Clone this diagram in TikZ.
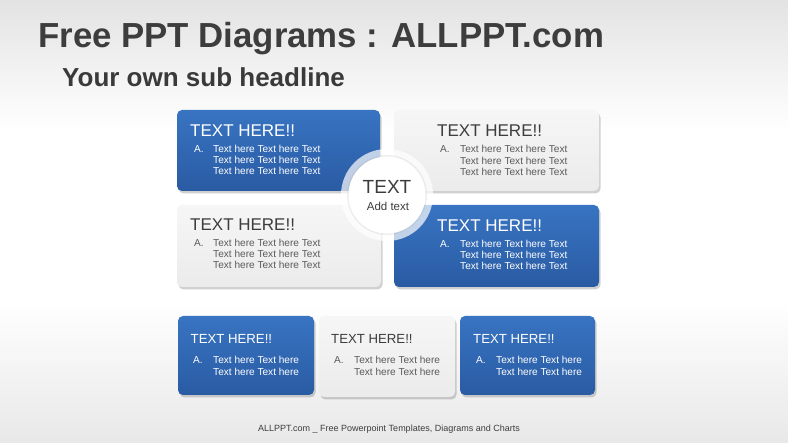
\documentclass[tikz,border=0pt]{standalone}
\usepackage{fontspec}
\setmainfont{Liberation Sans}
\usetikzlibrary{shadows}
\definecolor{blueup}{HTML}{3874C2}
\definecolor{bluedown}{HTML}{2A5BA3}
\definecolor{greyup}{HTML}{F6F6F6}
\definecolor{greydown}{HTML}{EBEBEB}
\definecolor{ink}{HTML}{3D3D3D}
\tikzset{sh/.style={drop shadow={shadow xshift=1.5pt, shadow yshift=-2.5pt, opacity=0.3, fill=black!60}}}
\tikzset{bb/.style={sh, rounded corners=5pt, top color=blueup, bottom color=bluedown, inner sep=0}}
\tikzset{wb/.style={sh, rounded corners=5pt, top color=greyup, bottom color=greydown, inner sep=0}}
\tikzset{h/.style={anchor=base west, inner sep=0, font=\fontsize{17}{17}\selectfont}}
\tikzset{hs/.style={anchor=base west, inner sep=0, font=\fontsize{13.2}{13.2}\selectfont}}
\tikzset{t/.style={anchor=base west, inner sep=0, align=left, font=\fontsize{10.1}{11.2}\selectfont}}
\tikzset{ts/.style={anchor=base west, inner sep=0, align=left, font=\fontsize{10.1}{12}\selectfont}}

\begin{document}
\begin{tikzpicture}[x=1pt, y=-1pt]
        % background
        \useasboundingbox (0,0) rectangle (788,443);
        \shade[top color=black!11, bottom color=white] (0,0) rectangle (788,130);
        \fill[white] (0,130) rectangle (788,300);
        \shade[top color=white, bottom color=black!9] (0,300) rectangle (788,443);

        % titles
        \node[anchor=base west, inner sep=0, text=ink, font=\fontsize{34.8}{34.8}\selectfont\bfseries] (title) at (38,48) {Free PPT Diagrams : ALLPPT.com};
        \node[anchor=base west, inner sep=0, text=ink!95!black, font=\fontsize{26}{26}\selectfont\bfseries] (sub) at (62,87) {Your own sub headline};

        % four boxes (text blocks sit on their last line)
        \node[bb, minimum width=203pt, minimum height=81pt] (B1) at (278.5,150.5) {};
        \node[wb, minimum width=205pt, minimum height=81pt] (B2) at (496.5,150.5) {};
        \node[wb, minimum width=204pt, minimum height=82pt] (B3) at (279,246) {};
        \node[bb, minimum width=205pt, minimum height=82pt] (B4) at (496.5,246) {};

        \node[h, text=white] (H1) at (190,137) {TEXT HERE!!};
        \node[t, text=white] (A1) at (194,152.5) {A.};
        \node[t, text=white] (T1) at (213,174.9) {Text here Text here Text\\Text here Text here Text\\Text here Text here Text};
        \node[h, text=ink] (H2) at (437,137) {TEXT HERE!!};
        \node[t, text=ink!85] (A2) at (440,153) {A.};
        \node[t, text=ink!85] (T2) at (460,175.4) {Text here Text here Text\\Text here Text here Text\\Text here Text here Text};
        \node[h, text=ink] (H3) at (190,231) {TEXT HERE!!};
        \node[t, text=ink!85] (A3) at (194,246.5) {A.};
        \node[t, text=ink!85] (T3) at (213,268.9) {Text here Text here Text\\Text here Text here Text\\Text here Text here Text};
        \node[h, text=white] (H4) at (437,232) {TEXT HERE!!};
        \node[t, text=white] (A4) at (440,247.5) {A.};
        \node[t, text=white] (T4) at (460,269.9) {Text here Text here Text\\Text here Text here Text\\Text here Text here Text};

        % centre disc
        \fill[white, opacity=0.7] (387,195) circle (46);
        \node[circle, fill=white, minimum size=77pt, inner sep=0, drop shadow={shadow xshift=0pt, shadow yshift=0pt, opacity=0.15, fill=black!40, shadow scale=1.04}] (C) at (387,195) {};
        \node[anchor=base, inner sep=0, text=ink, font=\fontsize{19}{19}\selectfont] (CT) at (387,194) {TEXT};
        \node[anchor=base, inner sep=0, text=ink, font=\fontsize{11.5}{11.5}\selectfont] (CA) at (388,211) {Add text};

        % three small boxes
        \node[bb, minimum width=136pt, minimum height=79pt] (S1) at (246,355.5) {};
        \node[wb, minimum width=136pt, minimum height=81pt] (S2) at (387,356.5) {};
        \node[bb, minimum width=135pt, minimum height=79pt] (S3) at (527.5,355.5) {};

        \node[hs, text=white] (SH1) at (190.5,343.5) {TEXT HERE!!};
        \node[ts, text=white] (SA1) at (193,363.5) {A.};
        \node[ts, text=white] (ST1) at (213,375.5) {Text here Text here\\Text here Text here};
        \node[hs, text=ink] (SH2) at (331,343.5) {TEXT HERE!!};
        \node[ts, text=ink!85] (SA2) at (334,363.5) {A.};
        \node[ts, text=ink!85] (ST2) at (354,375.5) {Text here Text here\\Text here Text here};
        \node[hs, text=white] (SH3) at (473,343.5) {TEXT HERE!!};
        \node[ts, text=white] (SA3) at (476,363.5) {A.};
        \node[ts, text=white] (ST3) at (496,375.5) {Text here Text here\\Text here Text here};

        % footer
        \node[anchor=base, inner sep=0, text=ink, font=\fontsize{9}{9}\selectfont] (foot) at (389,432) {ALLPPT.com \_ Free Powerpoint Templates, Diagrams and Charts};
      \end{tikzpicture}
\end{document}
